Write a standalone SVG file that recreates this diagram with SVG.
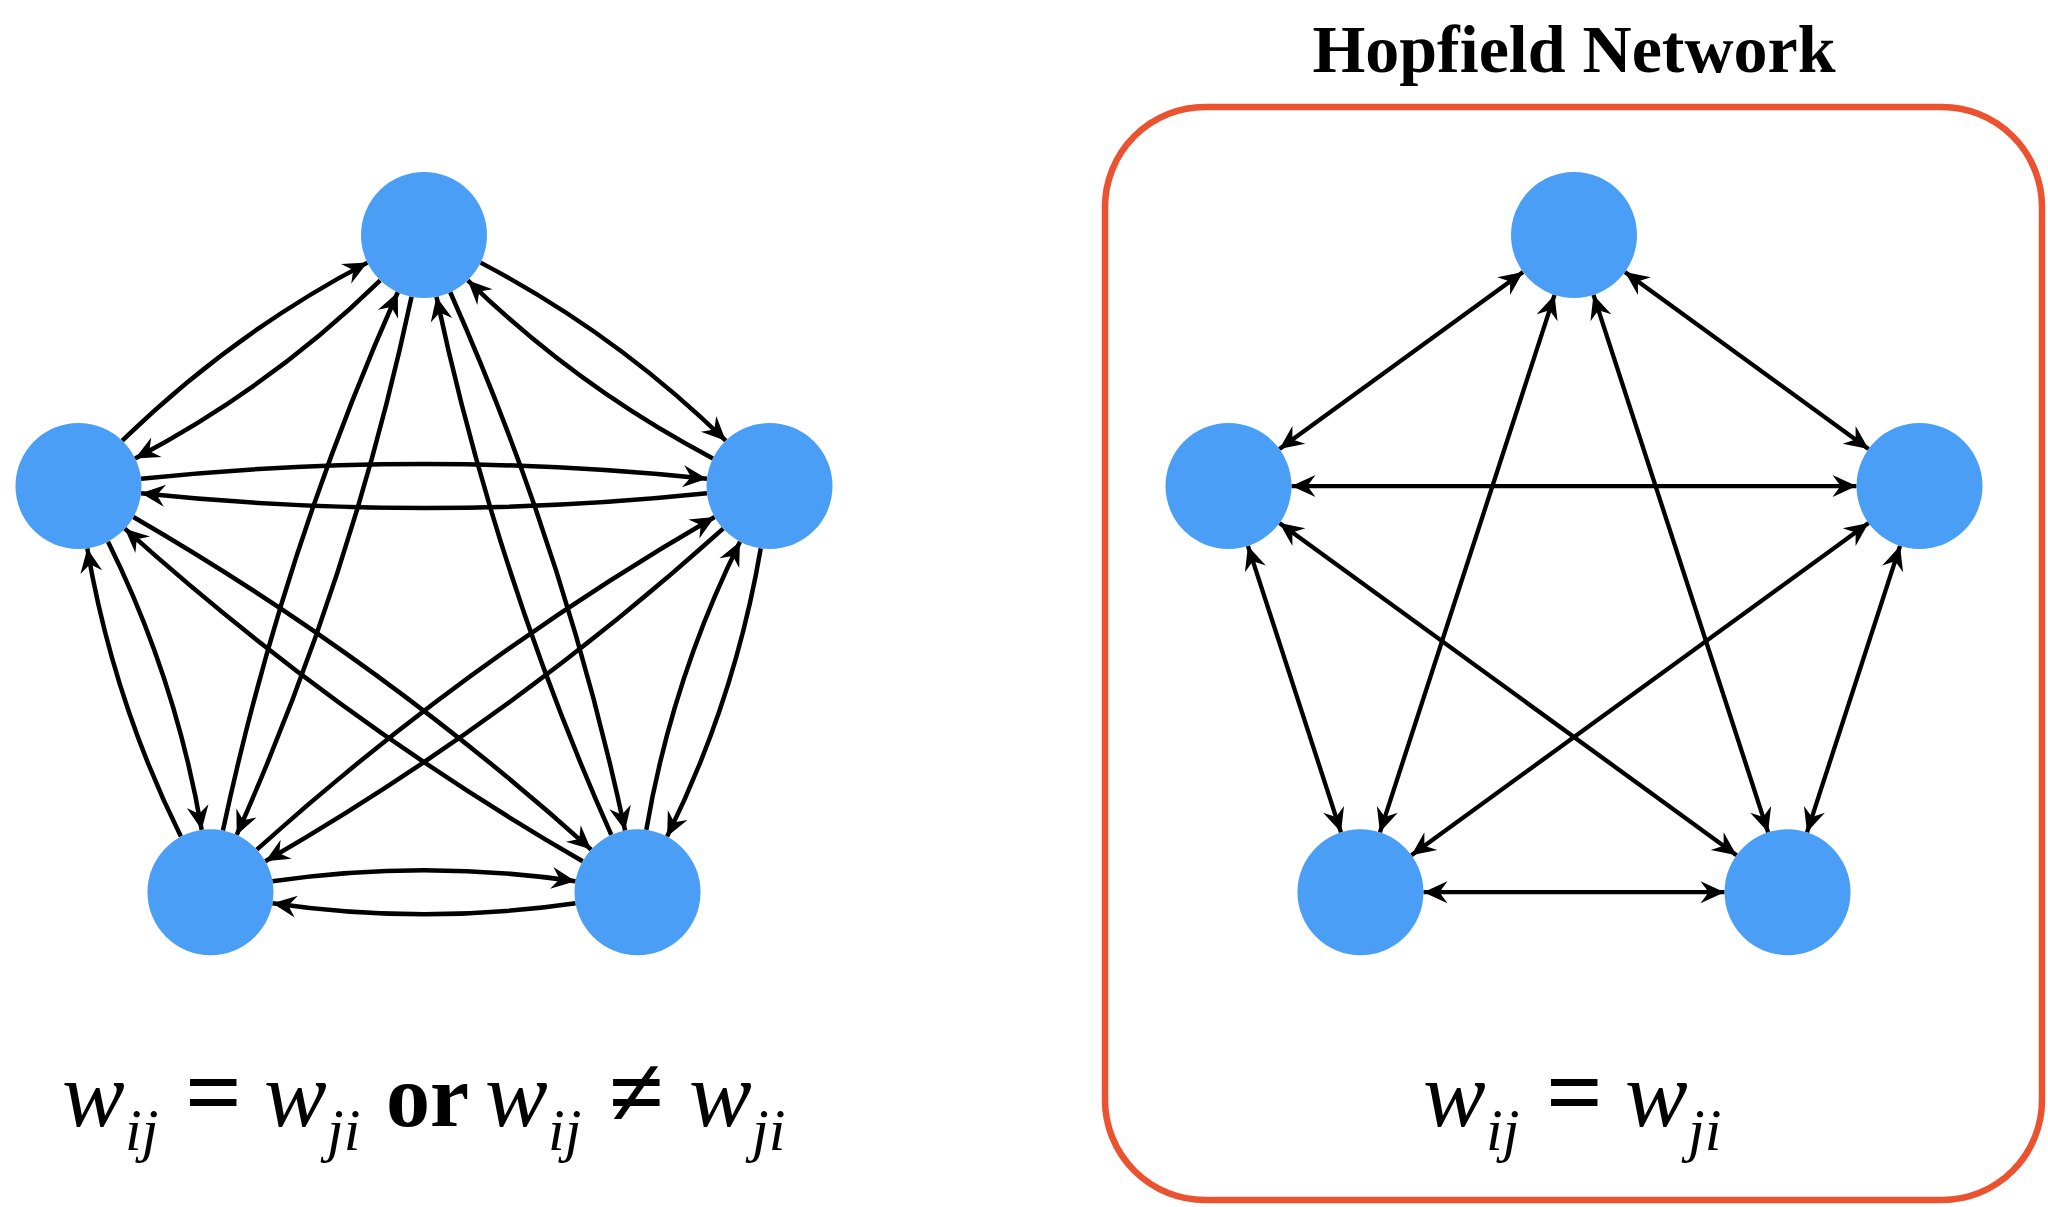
<svg xmlns="http://www.w3.org/2000/svg" width="2048" height="1207" viewBox="0 0 2048 1207">
<style>
.node{fill:#4A9EF5}
.arc{fill:none;stroke:#000;stroke-width:4.5;marker-end:url(#ah)}
.dbl{fill:none;stroke:#000;stroke-width:4.3;marker-start:url(#ah);marker-end:url(#ah)}
.box{fill:none;stroke:#EA5230;stroke-width:6.5}
.title{font-family:"Liberation Serif","Times New Roman",serif;font-weight:bold;font-size:68px;fill:#000}
.f{font-family:"Liberation Serif","Times New Roman",serif;fill:#000}
.it{font-style:italic;font-size:94px}
.sub{font-style:italic;font-size:60px}
.op{font-weight:bold;font-size:100px}
.bd{font-weight:bold;font-size:88px}
</style>
<defs>
<marker id="ah" viewBox="-26 -13 28 26" refX="0" refY="0" markerWidth="28" markerHeight="26" markerUnits="userSpaceOnUse" orient="auto-start-reverse">
<path d="M0,0 L-24,-11 L-16,0 L-24,11 Z" fill="#000"/>
</marker>
</defs>
<rect width="2048" height="1207" fill="#fff"/>

<g id="connectors-left">
<path class="arc" d="M141.06,478.78 Q424,449.28 706.94,478.78"/>
<path class="arc" d="M706.94,493.28 Q424,522.78 141.06,493.28"/>
<path class="arc" d="M272.49,881.30 Q424,859.15 575.51,881.30"/>
<path class="arc" d="M575.51,903.15 Q424,925.29 272.49,903.15"/>
<path class="arc" d="M380.23,280.30 Q270.68,387.27 135.09,458.41"/>
<path class="arc" d="M122.25,440.73 Q231.80,333.77 367.39,262.62"/>
<path class="arc" d="M480.61,262.62 Q616.20,333.77 725.75,440.73"/>
<path class="arc" d="M712.91,458.41 Q577.32,387.27 467.77,280.30"/>
<path class="arc" d="M108.04,541.65 Q175.92,678.91 201.68,829.84"/>
<path class="arc" d="M180.90,836.60 Q113.02,699.35 87.26,548.41"/>
<path class="arc" d="M760.74,548.41 Q734.98,699.35 667.10,836.60"/>
<path class="arc" d="M646.32,829.84 Q672.08,678.91 739.96,541.65"/>
<path class="arc" d="M411.55,296.76 Q352.18,574.97 236.69,834.94"/>
<path class="arc" d="M222.91,830.46 Q282.28,552.25 397.77,292.28"/>
<path class="arc" d="M450.23,292.28 Q565.72,552.25 625.09,830.46"/>
<path class="arc" d="M611.31,834.94 Q495.82,574.97 436.45,296.76"/>
<path class="arc" d="M133.37,516.95 Q379.61,659.40 591.17,849.58"/>
<path class="arc" d="M582.65,861.30 Q336.41,718.86 124.85,528.67"/>
<path class="arc" d="M723.15,528.67 Q511.59,718.86 265.35,861.30"/>
<path class="arc" d="M256.83,849.58 Q468.39,659.40 714.63,516.95"/>
</g>

<g id="connectors-right">
<path class="dbl" d="M1523.03,272.03 L1279.45,449.00"/>
<path class="dbl" d="M1624.97,272.03 L1868.55,449.00"/>
<path class="dbl" d="M1291.48,486.03 L1856.52,486.03"/>
<path class="dbl" d="M1247.95,545.95 L1340.99,832.30"/>
<path class="dbl" d="M1900.05,545.95 L1807.01,832.30"/>
<path class="dbl" d="M1423.46,892.22 L1724.54,892.22"/>
<path class="dbl" d="M1554.53,294.92 L1379.93,832.30"/>
<path class="dbl" d="M1593.47,294.92 L1768.07,832.30"/>
<path class="dbl" d="M1279.45,523.06 L1736.57,855.19"/>
<path class="dbl" d="M1868.55,523.06 L1411.43,855.19"/>
</g>

<g id="left-top"><circle class="node" cx="424" cy="235" r="63"/></g>
<g id="left-left"><circle class="node" cx="78.48" cy="486.03" r="63"/></g>
<g id="left-right"><circle class="node" cx="769.52" cy="486.03" r="63"/></g>
<g id="left-bottom-left"><circle class="node" cx="210.46" cy="892.22" r="63"/></g>
<g id="left-bottom-right"><circle class="node" cx="637.54" cy="892.22" r="63"/></g>

<g id="hopfield-box"><rect class="box" x="1105" y="107" width="937" height="1093" rx="100" ry="100"/></g>
<g id="right-top"><circle class="node" cx="1574" cy="235" r="63"/></g>
<g id="right-left"><circle class="node" cx="1228.48" cy="486.03" r="63"/></g>
<g id="right-right"><circle class="node" cx="1919.52" cy="486.03" r="63"/></g>
<g id="right-bottom-left"><circle class="node" cx="1360.46" cy="892.22" r="63"/></g>
<g id="right-bottom-right"><circle class="node" cx="1787.54" cy="892.22" r="63"/></g>

<g id="title"><text class="title" x="1574" y="72" text-anchor="middle">Hopfield Network</text></g>

<g id="formula-left">
<text class="f" y="1126"><tspan class="it" x="62" y="1126">w</tspan><tspan class="sub" x="125" y="1150">ij</tspan><tspan class="op" x="185" y="1126">=</tspan><tspan class="it" x="264" y="1126">w</tspan><tspan class="sub" x="327" y="1150">ji</tspan><tspan class="bd" x="386" y="1126">or</tspan><tspan class="it" x="485" y="1126">w</tspan><tspan class="sub" x="548" y="1150">ij</tspan><tspan class="op" x="609" y="1126">≠</tspan><tspan class="it" x="689" y="1126">w</tspan><tspan class="sub" x="752" y="1150">ji</tspan></text>
</g>

<g id="formula-right">
<text class="f" y="1126"><tspan class="it" x="1423" y="1126">w</tspan><tspan class="sub" x="1486" y="1150">ij</tspan><tspan class="op" x="1546" y="1126">=</tspan><tspan class="it" x="1625" y="1126">w</tspan><tspan class="sub" x="1688" y="1150">ji</tspan></text>
</g>
</svg>
